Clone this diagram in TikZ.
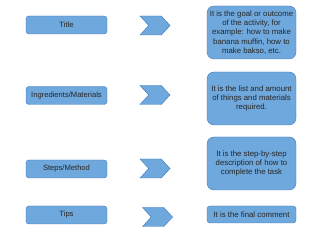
\documentclass[tikz,border=0pt]{standalone}
\usepackage{fontspec}
\setmainfont{Liberation Sans}
\usetikzlibrary{shapes.symbols}
\definecolor{boxfill}{RGB}{111,168,220}
\definecolor{boxline}{RGB}{61,120,190}

\begin{document}
\begin{tikzpicture}[x=1pt,y=1pt,
  part/.style={draw=boxline,fill=boxfill,rounded corners=3pt,minimum width=81pt,minimum height=18pt,inner sep=0pt,font=\fontsize{7.6}{9}\selectfont,text=black!85},
  info/.style={draw=boxline,fill=boxfill,rounded corners=7pt,minimum width=89pt,inner sep=0pt,align=center,font=\fontsize{7.8}{9.2}\selectfont,text=black!85},
  chev/.style={signal,signal from=west,signal to=east,signal pointer angle=95,draw=boxline,fill=boxfill,minimum width=30pt,minimum height=19pt,inner sep=0pt}]
\useasboundingbox (0,0) rectangle (320,240);
\node[part] (title) at (66.5,215) {Title};
\node[part] (ingr) at (66.5,144.5) {Ingredients/Materials};
\node[part] (steps) at (66.5,71) {Steps/Method};
\node[part] (tips) at (66.5,25) {Tips};
\node[chev] (c1) at (155,214.5) {};
\node[chev] (c2) at (155,145) {};
\node[chev] (c3) at (155,71.5) {};
\node[chev] (c4) at (157.5,23) {};
\node[info,minimum height=53pt] (goal) at (251.5,207.5) {It is the goal or outcome\\of the activity, for\\example: how to make\\banana muffin, how to\\make bakso, etc.};
\node[info,minimum height=53pt] (list) at (251.5,141.5) {It is the list and amount\\of things and materials\\required.};
\node[info,minimum height=53pt] (desc) at (251.5,76.5) {It is the step-by-step\\description of how to\\complete the task};
\node[info,minimum height=17pt,rounded corners=3pt] (final) at (251.5,25.5) {It is the final comment};
\end{tikzpicture}
\end{document}
